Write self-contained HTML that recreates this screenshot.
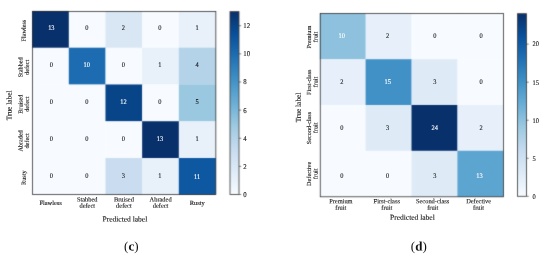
<!DOCTYPE html>
<html><head><meta charset="utf-8"><title>Confusion matrices</title>
<style>
html,body{margin:0;padding:0;background:#fff;}
svg{display:block;font-family:'Liberation Serif', 'Times New Roman', serif;text-rendering:geometricPrecision;}
</style></head><body>
<svg width="550" height="257" viewBox="0 0 550 257">
<defs><filter id="soft" x="0" y="0" width="550" height="257" filterUnits="userSpaceOnUse" color-interpolation-filters="sRGB"><feConvolveMatrix order="3" kernelMatrix="0.0144 0.0912 0.0144 0.0912 0.5776 0.0912 0.0144 0.0912 0.0144" edgeMode="duplicate" preserveAlpha="false"/></filter></defs>
<rect x="0" y="0" width="550" height="257" fill="#ffffff"/>
<g filter="url(#soft)">
<rect x="32.13" y="10.93" width="36.97" height="37.07" fill="#08306b"/>
<rect x="68.80" y="10.93" width="36.97" height="37.07" fill="#f7fbff"/>
<rect x="105.47" y="10.93" width="36.97" height="37.07" fill="#d9e7f5"/>
<rect x="142.14" y="10.93" width="36.97" height="37.07" fill="#f7fbff"/>
<rect x="178.81" y="10.93" width="37.04" height="37.07" fill="#e8f1fa"/>
<rect x="32.13" y="47.70" width="36.97" height="37.07" fill="#f7fbff"/>
<rect x="68.80" y="47.70" width="36.97" height="37.07" fill="#1d6cb1"/>
<rect x="105.47" y="47.70" width="36.97" height="37.07" fill="#f7fbff"/>
<rect x="142.14" y="47.70" width="36.97" height="37.07" fill="#e8f1fa"/>
<rect x="178.81" y="47.70" width="37.04" height="37.07" fill="#b4d3e9"/>
<rect x="32.13" y="84.47" width="36.97" height="37.07" fill="#f7fbff"/>
<rect x="68.80" y="84.47" width="36.97" height="37.07" fill="#f7fbff"/>
<rect x="105.47" y="84.47" width="36.97" height="37.07" fill="#084488"/>
<rect x="142.14" y="84.47" width="36.97" height="37.07" fill="#f7fbff"/>
<rect x="178.81" y="84.47" width="37.04" height="37.07" fill="#9ac8e0"/>
<rect x="32.13" y="121.24" width="36.97" height="37.07" fill="#f7fbff"/>
<rect x="68.80" y="121.24" width="36.97" height="37.07" fill="#f7fbff"/>
<rect x="105.47" y="121.24" width="36.97" height="37.07" fill="#f7fbff"/>
<rect x="142.14" y="121.24" width="36.97" height="37.07" fill="#08306b"/>
<rect x="178.81" y="121.24" width="37.04" height="37.07" fill="#e8f1fa"/>
<rect x="32.13" y="158.01" width="36.97" height="36.77" fill="#f7fbff"/>
<rect x="68.80" y="158.01" width="36.97" height="36.77" fill="#f7fbff"/>
<rect x="105.47" y="158.01" width="36.97" height="36.77" fill="#caddf0"/>
<rect x="142.14" y="158.01" width="36.97" height="36.77" fill="#e8f1fa"/>
<rect x="178.81" y="158.01" width="37.04" height="36.77" fill="#0e58a2"/>
<rect x="32.50" y="11.40" width="183.35" height="183.20" fill="none" stroke="#262626" stroke-width="0.75"/>
<defs><linearGradient id="gl" x1="0" y1="0" x2="0" y2="1"><stop offset="0.0000" stop-color="#08306b"/><stop offset="0.0312" stop-color="#083776"/><stop offset="0.0625" stop-color="#084082"/><stop offset="0.0938" stop-color="#08488e"/><stop offset="0.1250" stop-color="#08509b"/><stop offset="0.1562" stop-color="#0e58a2"/><stop offset="0.1875" stop-color="#1460a8"/><stop offset="0.2188" stop-color="#1a68ae"/><stop offset="0.2500" stop-color="#2070b4"/><stop offset="0.2812" stop-color="#2979b9"/><stop offset="0.3125" stop-color="#3181bd"/><stop offset="0.3438" stop-color="#3989c1"/><stop offset="0.3750" stop-color="#4191c6"/><stop offset="0.4062" stop-color="#4b98ca"/><stop offset="0.4375" stop-color="#56a0ce"/><stop offset="0.4688" stop-color="#60a7d2"/><stop offset="0.5000" stop-color="#6aaed6"/><stop offset="0.5312" stop-color="#77b5d9"/><stop offset="0.5625" stop-color="#84bcdb"/><stop offset="0.5938" stop-color="#91c3de"/><stop offset="0.6250" stop-color="#9dcae1"/><stop offset="0.6562" stop-color="#a8cee4"/><stop offset="0.6875" stop-color="#b2d2e8"/><stop offset="0.7188" stop-color="#bcd7eb"/><stop offset="0.7500" stop-color="#c6dbef"/><stop offset="0.7812" stop-color="#ccdff1"/><stop offset="0.8125" stop-color="#d2e3f3"/><stop offset="0.8438" stop-color="#d8e7f5"/><stop offset="0.8750" stop-color="#deebf7"/><stop offset="0.9062" stop-color="#e4eff9"/><stop offset="0.9375" stop-color="#eaf3fb"/><stop offset="0.9688" stop-color="#f1f7fd"/><stop offset="1.0000" stop-color="#f7fbff"/></linearGradient></defs>
<rect x="230.00" y="11.65" width="9.00" height="182.85" fill="url(#gl)" stroke="#404040" stroke-width="0.85"/>
<line x1="239.00" y1="194.50" x2="241.20" y2="194.50" stroke="#2a2a2a" stroke-width="0.6"/>
<line x1="239.00" y1="166.37" x2="241.20" y2="166.37" stroke="#2a2a2a" stroke-width="0.6"/>
<line x1="239.00" y1="138.24" x2="241.20" y2="138.24" stroke="#2a2a2a" stroke-width="0.6"/>
<line x1="239.00" y1="110.11" x2="241.20" y2="110.11" stroke="#2a2a2a" stroke-width="0.6"/>
<line x1="239.00" y1="81.98" x2="241.20" y2="81.98" stroke="#2a2a2a" stroke-width="0.6"/>
<line x1="239.00" y1="53.85" x2="241.20" y2="53.85" stroke="#2a2a2a" stroke-width="0.6"/>
<line x1="239.00" y1="25.72" x2="241.20" y2="25.72" stroke="#2a2a2a" stroke-width="0.6"/>
<rect x="319.70" y="13.43" width="46.20" height="46.08" fill="#8dc1dd"/>
<rect x="365.60" y="13.43" width="46.20" height="46.08" fill="#e7f0fa"/>
<rect x="411.50" y="13.43" width="46.20" height="46.08" fill="#f7fbff"/>
<rect x="457.40" y="13.43" width="46.05" height="46.08" fill="#f7fbff"/>
<rect x="319.70" y="59.21" width="46.20" height="46.08" fill="#e7f0fa"/>
<rect x="365.60" y="59.21" width="46.20" height="46.08" fill="#4191c6"/>
<rect x="411.50" y="59.21" width="46.20" height="46.08" fill="#deebf7"/>
<rect x="457.40" y="59.21" width="46.05" height="46.08" fill="#f7fbff"/>
<rect x="319.70" y="104.99" width="46.20" height="46.08" fill="#f7fbff"/>
<rect x="365.60" y="104.99" width="46.20" height="46.08" fill="#deebf7"/>
<rect x="411.50" y="104.99" width="46.20" height="46.08" fill="#08306b"/>
<rect x="457.40" y="104.99" width="46.05" height="46.08" fill="#e7f0fa"/>
<rect x="319.70" y="150.77" width="46.20" height="46.03" fill="#f7fbff"/>
<rect x="365.60" y="150.77" width="46.20" height="46.03" fill="#f7fbff"/>
<rect x="411.50" y="150.77" width="46.20" height="46.03" fill="#deebf7"/>
<rect x="457.40" y="150.77" width="46.05" height="46.03" fill="#5da5d1"/>
<rect x="320.25" y="13.60" width="183.20" height="183.20" fill="none" stroke="#262626" stroke-width="0.75"/>
<defs><linearGradient id="gr" x1="0" y1="0" x2="0" y2="1"><stop offset="0.0000" stop-color="#08306b"/><stop offset="0.0312" stop-color="#083776"/><stop offset="0.0625" stop-color="#084082"/><stop offset="0.0938" stop-color="#08488e"/><stop offset="0.1250" stop-color="#08509b"/><stop offset="0.1562" stop-color="#0e58a2"/><stop offset="0.1875" stop-color="#1460a8"/><stop offset="0.2188" stop-color="#1a68ae"/><stop offset="0.2500" stop-color="#2070b4"/><stop offset="0.2812" stop-color="#2979b9"/><stop offset="0.3125" stop-color="#3181bd"/><stop offset="0.3438" stop-color="#3989c1"/><stop offset="0.3750" stop-color="#4191c6"/><stop offset="0.4062" stop-color="#4b98ca"/><stop offset="0.4375" stop-color="#56a0ce"/><stop offset="0.4688" stop-color="#60a7d2"/><stop offset="0.5000" stop-color="#6aaed6"/><stop offset="0.5312" stop-color="#77b5d9"/><stop offset="0.5625" stop-color="#84bcdb"/><stop offset="0.5938" stop-color="#91c3de"/><stop offset="0.6250" stop-color="#9dcae1"/><stop offset="0.6562" stop-color="#a8cee4"/><stop offset="0.6875" stop-color="#b2d2e8"/><stop offset="0.7188" stop-color="#bcd7eb"/><stop offset="0.7500" stop-color="#c6dbef"/><stop offset="0.7812" stop-color="#ccdff1"/><stop offset="0.8125" stop-color="#d2e3f3"/><stop offset="0.8438" stop-color="#d8e7f5"/><stop offset="0.8750" stop-color="#deebf7"/><stop offset="0.9062" stop-color="#e4eff9"/><stop offset="0.9375" stop-color="#eaf3fb"/><stop offset="0.9688" stop-color="#f1f7fd"/><stop offset="1.0000" stop-color="#f7fbff"/></linearGradient></defs>
<rect x="517.50" y="13.70" width="9.05" height="182.60" fill="url(#gr)" stroke="#404040" stroke-width="0.85"/>
<line x1="526.55" y1="196.30" x2="528.75" y2="196.30" stroke="#2a2a2a" stroke-width="0.6"/>
<line x1="526.55" y1="158.26" x2="528.75" y2="158.26" stroke="#2a2a2a" stroke-width="0.6"/>
<line x1="526.55" y1="120.22" x2="528.75" y2="120.22" stroke="#2a2a2a" stroke-width="0.6"/>
<line x1="526.55" y1="82.17" x2="528.75" y2="82.17" stroke="#2a2a2a" stroke-width="0.6"/>
<line x1="526.55" y1="44.13" x2="528.75" y2="44.13" stroke="#2a2a2a" stroke-width="0.6"/>
</g>
<g>
<text transform="translate(51.32,30.20) rotate(0.03) scale(0.9,1)" font-size="7.1" fill="#ffffff" stroke="#ffffff" stroke-width="0.12" text-anchor="middle">13</text>
<text transform="translate(86.78,30.20) rotate(0.03) scale(0.9,1)" font-size="7.1" fill="#161616" stroke="#161616" stroke-width="0.12" text-anchor="middle">0</text>
<text transform="translate(123.45,30.20) rotate(0.03) scale(0.9,1)" font-size="7.1" fill="#161616" stroke="#161616" stroke-width="0.12" text-anchor="middle">2</text>
<text transform="translate(159.92,30.20) rotate(0.03) scale(0.9,1)" font-size="7.1" fill="#161616" stroke="#161616" stroke-width="0.12" text-anchor="middle">0</text>
<text transform="translate(197.19,30.20) rotate(0.03) scale(0.9,1)" font-size="7.1" fill="#161616" stroke="#161616" stroke-width="0.12" text-anchor="middle">1</text>
<text transform="translate(51.32,67.00) rotate(0.03) scale(0.9,1)" font-size="7.1" fill="#161616" stroke="#161616" stroke-width="0.12" text-anchor="middle">0</text>
<text transform="translate(86.78,67.00) rotate(0.03) scale(0.9,1)" font-size="7.1" fill="#ffffff" stroke="#ffffff" stroke-width="0.12" text-anchor="middle">10</text>
<text transform="translate(123.45,67.00) rotate(0.03) scale(0.9,1)" font-size="7.1" fill="#161616" stroke="#161616" stroke-width="0.12" text-anchor="middle">0</text>
<text transform="translate(159.92,67.00) rotate(0.03) scale(0.9,1)" font-size="7.1" fill="#161616" stroke="#161616" stroke-width="0.12" text-anchor="middle">1</text>
<text transform="translate(197.19,67.00) rotate(0.03) scale(0.9,1)" font-size="7.1" fill="#161616" stroke="#161616" stroke-width="0.12" text-anchor="middle">4</text>
<text transform="translate(51.32,104.00) rotate(0.03) scale(0.9,1)" font-size="7.1" fill="#161616" stroke="#161616" stroke-width="0.12" text-anchor="middle">0</text>
<text transform="translate(86.78,104.00) rotate(0.03) scale(0.9,1)" font-size="7.1" fill="#161616" stroke="#161616" stroke-width="0.12" text-anchor="middle">0</text>
<text transform="translate(123.45,104.00) rotate(0.03) scale(0.9,1)" font-size="7.1" fill="#ffffff" stroke="#ffffff" stroke-width="0.12" text-anchor="middle">12</text>
<text transform="translate(159.92,104.00) rotate(0.03) scale(0.9,1)" font-size="7.1" fill="#161616" stroke="#161616" stroke-width="0.12" text-anchor="middle">0</text>
<text transform="translate(197.19,104.00) rotate(0.03) scale(0.9,1)" font-size="7.1" fill="#161616" stroke="#161616" stroke-width="0.12" text-anchor="middle">5</text>
<text transform="translate(51.32,141.00) rotate(0.03) scale(0.9,1)" font-size="7.1" fill="#161616" stroke="#161616" stroke-width="0.12" text-anchor="middle">0</text>
<text transform="translate(86.78,141.00) rotate(0.03) scale(0.9,1)" font-size="7.1" fill="#161616" stroke="#161616" stroke-width="0.12" text-anchor="middle">0</text>
<text transform="translate(123.45,141.00) rotate(0.03) scale(0.9,1)" font-size="7.1" fill="#161616" stroke="#161616" stroke-width="0.12" text-anchor="middle">0</text>
<text transform="translate(159.92,141.00) rotate(0.03) scale(0.9,1)" font-size="7.1" fill="#ffffff" stroke="#ffffff" stroke-width="0.12" text-anchor="middle">13</text>
<text transform="translate(197.19,141.00) rotate(0.03) scale(0.9,1)" font-size="7.1" fill="#161616" stroke="#161616" stroke-width="0.12" text-anchor="middle">1</text>
<text transform="translate(51.32,178.00) rotate(0.03) scale(0.9,1)" font-size="7.1" fill="#161616" stroke="#161616" stroke-width="0.12" text-anchor="middle">0</text>
<text transform="translate(86.78,178.00) rotate(0.03) scale(0.9,1)" font-size="7.1" fill="#161616" stroke="#161616" stroke-width="0.12" text-anchor="middle">0</text>
<text transform="translate(123.45,178.50) rotate(0.03) scale(0.9,1)" font-size="7.1" fill="#161616" stroke="#161616" stroke-width="0.12" text-anchor="middle">3</text>
<text transform="translate(159.92,178.50) rotate(0.03) scale(0.9,1)" font-size="7.1" fill="#161616" stroke="#161616" stroke-width="0.12" text-anchor="middle">1</text>
<text transform="translate(197.19,179.00) rotate(0.03) scale(0.9,1)" font-size="7.1" fill="#ffffff" stroke="#ffffff" stroke-width="0.12" text-anchor="middle">11</text>
<text transform="translate(50.57,205.00) rotate(0.03)" font-size="6.4" fill="#161616" stroke="#161616" stroke-width="0.12" text-anchor="middle">Flawless</text>
<text transform="translate(87.23,201.55) rotate(0.03)" font-size="6.4" fill="#161616" stroke="#161616" stroke-width="0.12" text-anchor="middle">Stabbed</text>
<text transform="translate(87.23,207.80) rotate(0.03)" font-size="6.4" fill="#161616" stroke="#161616" stroke-width="0.12" text-anchor="middle">defect</text>
<text transform="translate(123.91,201.55) rotate(0.03)" font-size="6.4" fill="#161616" stroke="#161616" stroke-width="0.12" text-anchor="middle">Bruised</text>
<text transform="translate(123.91,207.80) rotate(0.03)" font-size="6.4" fill="#161616" stroke="#161616" stroke-width="0.12" text-anchor="middle">defect</text>
<text transform="translate(160.57,201.55) rotate(0.03)" font-size="6.4" fill="#161616" stroke="#161616" stroke-width="0.12" text-anchor="middle">Abraded</text>
<text transform="translate(160.57,207.80) rotate(0.03)" font-size="6.4" fill="#161616" stroke="#161616" stroke-width="0.12" text-anchor="middle">defect</text>
<text transform="translate(197.25,205.00) rotate(0.03)" font-size="6.4" fill="#161616" stroke="#161616" stroke-width="0.12" text-anchor="middle">Rusty</text>
<text transform="translate(25.80,30.62) rotate(-89.97)" font-size="6.2" fill="#161616" stroke="#161616" stroke-width="0.12" text-anchor="middle">Flawless</text>
<text transform="translate(22.40,67.39) rotate(-89.97)" font-size="6.2" fill="#161616" stroke="#161616" stroke-width="0.12" text-anchor="middle">Stabbed</text>
<text transform="translate(29.00,67.39) rotate(-89.97)" font-size="6.2" fill="#161616" stroke="#161616" stroke-width="0.12" text-anchor="middle">defect</text>
<text transform="translate(22.40,104.16) rotate(-89.97)" font-size="6.2" fill="#161616" stroke="#161616" stroke-width="0.12" text-anchor="middle">Bruised</text>
<text transform="translate(29.00,104.16) rotate(-89.97)" font-size="6.2" fill="#161616" stroke="#161616" stroke-width="0.12" text-anchor="middle">defect</text>
<text transform="translate(22.40,140.93) rotate(-89.97)" font-size="6.2" fill="#161616" stroke="#161616" stroke-width="0.12" text-anchor="middle">Abraded</text>
<text transform="translate(29.00,140.93) rotate(-89.97)" font-size="6.2" fill="#161616" stroke="#161616" stroke-width="0.12" text-anchor="middle">defect</text>
<text transform="translate(25.80,177.70) rotate(-89.97)" font-size="6.2" fill="#161616" stroke="#161616" stroke-width="0.12" text-anchor="middle">Rusty</text>
<text transform="translate(124.90,221.60) rotate(0.03)" font-size="7.5" fill="#161616" stroke="#161616" stroke-width="0.12" text-anchor="middle">Predicted label</text>
<text transform="translate(11.40,105.40) rotate(-89.97)" font-size="7.35" fill="#161616" stroke="#161616" stroke-width="0.12" text-anchor="middle">True label</text>
<text transform="translate(243.30,196.95) rotate(0.03) scale(0.92,1)" font-size="7.4" fill="#161616" stroke="#161616" stroke-width="0.12" text-anchor="start">0</text>
<text transform="translate(243.30,168.82) rotate(0.03) scale(0.92,1)" font-size="7.4" fill="#161616" stroke="#161616" stroke-width="0.12" text-anchor="start">2</text>
<text transform="translate(243.30,140.69) rotate(0.03) scale(0.92,1)" font-size="7.4" fill="#161616" stroke="#161616" stroke-width="0.12" text-anchor="start">4</text>
<text transform="translate(243.30,112.56) rotate(0.03) scale(0.92,1)" font-size="7.4" fill="#161616" stroke="#161616" stroke-width="0.12" text-anchor="start">6</text>
<text transform="translate(243.30,84.43) rotate(0.03) scale(0.92,1)" font-size="7.4" fill="#161616" stroke="#161616" stroke-width="0.12" text-anchor="start">8</text>
<text transform="translate(243.30,56.30) rotate(0.03) scale(0.92,1)" font-size="7.4" fill="#161616" stroke="#161616" stroke-width="0.12" text-anchor="start">10</text>
<text transform="translate(243.30,28.17) rotate(0.03) scale(0.92,1)" font-size="7.4" fill="#161616" stroke="#161616" stroke-width="0.12" text-anchor="start">12</text>
<text transform="translate(341.80,38.10) rotate(0.03) scale(0.9,1)" font-size="7.1" fill="#ffffff" stroke="#ffffff" stroke-width="0.12" text-anchor="middle">10</text>
<text transform="translate(387.70,38.10) rotate(0.03) scale(0.9,1)" font-size="7.1" fill="#161616" stroke="#161616" stroke-width="0.12" text-anchor="middle">2</text>
<text transform="translate(434.80,38.10) rotate(0.03) scale(0.9,1)" font-size="7.1" fill="#161616" stroke="#161616" stroke-width="0.12" text-anchor="middle">0</text>
<text transform="translate(481.10,38.10) rotate(0.03) scale(0.9,1)" font-size="7.1" fill="#161616" stroke="#161616" stroke-width="0.12" text-anchor="middle">0</text>
<text transform="translate(341.80,83.70) rotate(0.03) scale(0.9,1)" font-size="7.1" fill="#161616" stroke="#161616" stroke-width="0.12" text-anchor="middle">2</text>
<text transform="translate(387.70,83.70) rotate(0.03) scale(0.9,1)" font-size="7.1" fill="#ffffff" stroke="#ffffff" stroke-width="0.12" text-anchor="middle">15</text>
<text transform="translate(434.80,83.70) rotate(0.03) scale(0.9,1)" font-size="7.1" fill="#161616" stroke="#161616" stroke-width="0.12" text-anchor="middle">3</text>
<text transform="translate(481.10,83.70) rotate(0.03) scale(0.9,1)" font-size="7.1" fill="#161616" stroke="#161616" stroke-width="0.12" text-anchor="middle">0</text>
<text transform="translate(341.80,129.70) rotate(0.03) scale(0.9,1)" font-size="7.1" fill="#161616" stroke="#161616" stroke-width="0.12" text-anchor="middle">0</text>
<text transform="translate(387.70,129.70) rotate(0.03) scale(0.9,1)" font-size="7.1" fill="#161616" stroke="#161616" stroke-width="0.12" text-anchor="middle">3</text>
<text transform="translate(434.80,129.70) rotate(0.03) scale(0.9,1)" font-size="7.1" fill="#ffffff" stroke="#ffffff" stroke-width="0.12" text-anchor="middle">24</text>
<text transform="translate(481.10,129.70) rotate(0.03) scale(0.9,1)" font-size="7.1" fill="#161616" stroke="#161616" stroke-width="0.12" text-anchor="middle">2</text>
<text transform="translate(341.80,178.40) rotate(0.03) scale(0.9,1)" font-size="7.1" fill="#161616" stroke="#161616" stroke-width="0.12" text-anchor="middle">0</text>
<text transform="translate(387.70,178.40) rotate(0.03) scale(0.9,1)" font-size="7.1" fill="#161616" stroke="#161616" stroke-width="0.12" text-anchor="middle">0</text>
<text transform="translate(434.80,178.40) rotate(0.03) scale(0.9,1)" font-size="7.1" fill="#161616" stroke="#161616" stroke-width="0.12" text-anchor="middle">3</text>
<text transform="translate(479.50,178.40) rotate(0.03) scale(0.9,1)" font-size="7.1" fill="#ffffff" stroke="#ffffff" stroke-width="0.12" text-anchor="middle">13</text>
<text transform="translate(340.85,203.30) rotate(0.03)" font-size="6.4" fill="#161616" stroke="#161616" stroke-width="0.12" text-anchor="middle">Premium</text>
<text transform="translate(340.85,209.80) rotate(0.03)" font-size="6.4" fill="#161616" stroke="#161616" stroke-width="0.12" text-anchor="middle">fruit</text>
<text transform="translate(386.75,203.30) rotate(0.03)" font-size="6.4" fill="#161616" stroke="#161616" stroke-width="0.12" text-anchor="middle">First-class</text>
<text transform="translate(386.75,209.80) rotate(0.03)" font-size="6.4" fill="#161616" stroke="#161616" stroke-width="0.12" text-anchor="middle">fruit</text>
<text transform="translate(432.65,203.30) rotate(0.03)" font-size="6.4" fill="#161616" stroke="#161616" stroke-width="0.12" text-anchor="middle">Second-class</text>
<text transform="translate(432.65,209.80) rotate(0.03)" font-size="6.4" fill="#161616" stroke="#161616" stroke-width="0.12" text-anchor="middle">fruit</text>
<text transform="translate(478.55,203.30) rotate(0.03)" font-size="6.4" fill="#161616" stroke="#161616" stroke-width="0.12" text-anchor="middle">Defective</text>
<text transform="translate(478.55,209.80) rotate(0.03)" font-size="6.4" fill="#161616" stroke="#161616" stroke-width="0.12" text-anchor="middle">fruit</text>
<text transform="translate(311.00,37.12) rotate(-89.97)" font-size="6.2" fill="#161616" stroke="#161616" stroke-width="0.12" text-anchor="middle">Premium</text>
<text transform="translate(317.40,37.12) rotate(-89.97)" font-size="6.2" fill="#161616" stroke="#161616" stroke-width="0.12" text-anchor="middle">fruit</text>
<text transform="translate(311.00,82.20) rotate(-89.97)" font-size="6.2" fill="#161616" stroke="#161616" stroke-width="0.12" text-anchor="middle">First-class</text>
<text transform="translate(317.40,82.20) rotate(-89.97)" font-size="6.2" fill="#161616" stroke="#161616" stroke-width="0.12" text-anchor="middle">fruit</text>
<text transform="translate(311.00,127.98) rotate(-89.97)" font-size="6.2" fill="#161616" stroke="#161616" stroke-width="0.12" text-anchor="middle">Second-class</text>
<text transform="translate(317.40,127.98) rotate(-89.97)" font-size="6.2" fill="#161616" stroke="#161616" stroke-width="0.12" text-anchor="middle">fruit</text>
<text transform="translate(311.00,173.86) rotate(-89.97)" font-size="6.2" fill="#161616" stroke="#161616" stroke-width="0.12" text-anchor="middle">Defective</text>
<text transform="translate(317.40,173.86) rotate(-89.97)" font-size="6.2" fill="#161616" stroke="#161616" stroke-width="0.12" text-anchor="middle">fruit</text>
<text transform="translate(412.40,219.85) rotate(0.03)" font-size="7.5" fill="#161616" stroke="#161616" stroke-width="0.12" text-anchor="middle">Predicted label</text>
<text transform="translate(300.70,107.50) rotate(-89.97)" font-size="7.35" fill="#161616" stroke="#161616" stroke-width="0.12" text-anchor="middle">True label</text>
<text transform="translate(532.55,198.65) rotate(0.03) scale(0.92,1)" font-size="7.0" fill="#161616" stroke="#161616" stroke-width="0.12" text-anchor="start">0</text>
<text transform="translate(532.55,160.61) rotate(0.03) scale(0.92,1)" font-size="7.0" fill="#161616" stroke="#161616" stroke-width="0.12" text-anchor="start">5</text>
<text transform="translate(532.55,122.57) rotate(0.03) scale(0.92,1)" font-size="7.0" fill="#161616" stroke="#161616" stroke-width="0.12" text-anchor="start">10</text>
<text transform="translate(532.55,84.52) rotate(0.03) scale(0.92,1)" font-size="7.0" fill="#161616" stroke="#161616" stroke-width="0.12" text-anchor="start">15</text>
<text transform="translate(532.55,46.48) rotate(0.03) scale(0.92,1)" font-size="7.0" fill="#161616" stroke="#161616" stroke-width="0.12" text-anchor="start">20</text>
<text transform="translate(131.3,250.4) rotate(0.03)" font-size="13" fill="#111" text-anchor="middle">(<tspan font-weight="bold" font-size="13">c</tspan>)</text>
<text transform="translate(418.8,250.4) rotate(0.03)" font-size="13" fill="#111" text-anchor="middle">(<tspan font-weight="bold" font-size="13">d</tspan>)</text>
</g>
</svg>
</body></html>
